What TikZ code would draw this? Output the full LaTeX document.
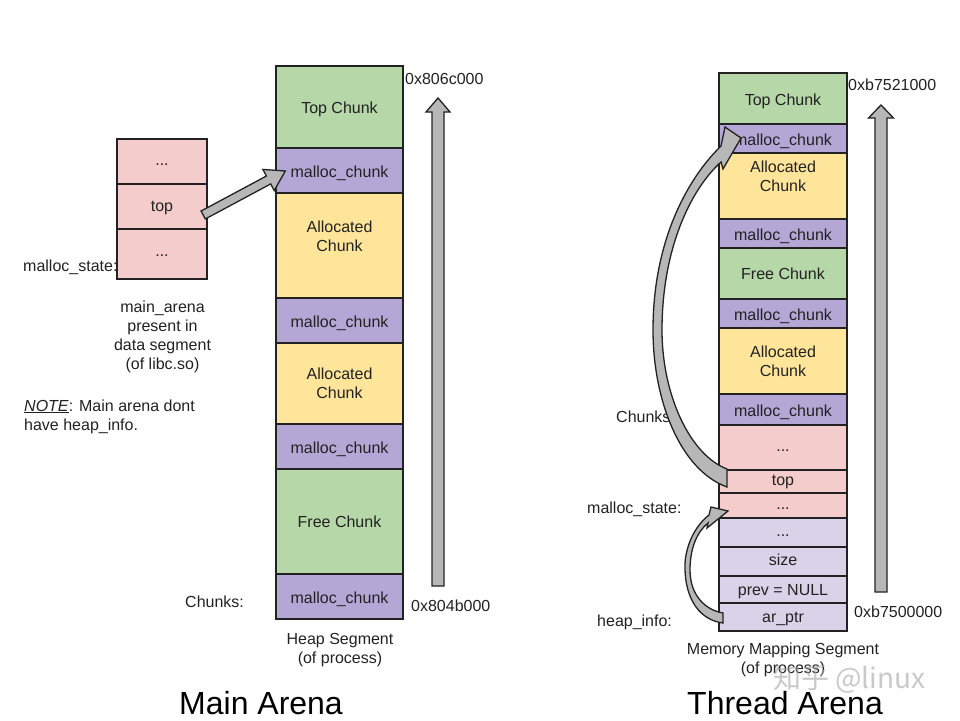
\documentclass[tikz,border=0pt]{standalone}
\usepackage{fontspec}
\setmainfont{Liberation Sans}
\newfontfamily\cjkwm{Noto Sans CJK SC}
\usetikzlibrary{calc}
\definecolor{cgreen}{HTML}{B6D7A8}
\definecolor{cpurple}{HTML}{B4A7D6}
\definecolor{cyellow}{HTML}{FFE599}
\definecolor{cpink}{HTML}{F4CCCC}
\definecolor{clav}{HTML}{D9D2E9}
\definecolor{agray}{HTML}{B7B7B7}
\definecolor{ink}{HTML}{222222}
% straight fat arrow: #1 start, #2 tip, #3 shaft half width, #4 head half width, #5 head length
\newcommand\fatarrow[5]{%
  \coordinate (fab) at ($(#2)!#5!(#1)$);
  \draw[fatstyle] ($(#1)!#3!90:(#2)$) -- ($(fab)!#3!-90:(#1)$) -- ($(fab)!#4!-90:(#1)$)
    -- (#2) -- ($(fab)!#4!90:(#1)$) -- ($(fab)!#3!90:(#1)$) -- ($(#1)!#3!-90:(#2)$) -- cycle;}
\begin{document}
\begin{tikzpicture}[x=1pt,y=-1pt,
  cboxbase/.style={draw=ink, line width=1.4pt, inner sep=0pt, align=center,
    font=\fontsize{16}{19}\selectfont, text=ink},
  sl/.style={text height=13pt, text depth=0pt},
  dots/.style={text height=7pt, text depth=0pt},
  mbox/.style={cboxbase, minimum width=127pt},
  tbox/.style={cboxbase, minimum width=128pt},
  sbox/.style={cboxbase, minimum width=90pt, fill=cpink},
  lbl/.style={inner sep=0pt, font=\fontsize{16}{19}\selectfont, text=ink},
  title/.style={inner sep=0pt, font=\fontsize{32}{36}\selectfont, text=black},
  fatstyle/.style={fill=agray, draw=ink, line width=1.3pt, line join=miter}]
\useasboundingbox[fill=white] (0,0) rectangle (960,720);

% ---------------- Main arena ----------------
\node[mbox, sl, fill=cgreen,  minimum height=82pt]  (mtop)  at (339.5,107)   {Top Chunk};
\node[mbox, sl, fill=cpurple, minimum height=45pt]  (mc1)   at (339.5,170.5) {malloc\_chunk};
\node[mbox, fill=cyellow, minimum height=105pt] (ma1)   at (339.5,245.5) {Allocated\\Chunk\\\mbox{}};
\node[mbox, sl, fill=cpurple, minimum height=45pt]  (mc2)   at (339.5,320.5) {malloc\_chunk};
\node[mbox, fill=cyellow, minimum height=81pt]  (ma2)   at (339.5,383.5) {Allocated\\Chunk};
\node[mbox, sl, fill=cpurple, minimum height=45pt]  (mc3)   at (339.5,446.5) {malloc\_chunk};
\node[mbox, text height=11.5pt, text depth=0pt, fill=cgreen,  minimum height=105pt] (mfree) at (339.5,521.5) {Free Chunk};
\node[mbox, sl, fill=cpurple, minimum height=45pt]  (mc4)   at (339.5,596.5) {malloc\_chunk};

\node[sbox, dots, minimum height=45pt] (ms1) at (162,161.5) {...};
\node[sbox, text height=10pt, text depth=0pt, minimum height=45pt] (ms2) at (162,206.5) {top};
\node[sbox, text height=4pt, text depth=0pt, minimum height=50pt] (ms3) at (162,254)   {...};

\node[lbl, anchor=base west] (lms) at (23,271) {malloc\_state:};
\node[lbl, anchor=base] (lmain) at (162.5,312)
  {\begin{tabular}[t]{@{}c@{}}main\_arena\\present in\\data segment\\(of libc.so)\end{tabular}};
\node[lbl, anchor=base west] (lnote) at (24,411)
  {\begin{tabular}[t]{@{}l@{}}\underline{\textit{NOTE}}: Main arena dont\\have heap\_info.\end{tabular}};
\node[lbl, anchor=base west] (lchm) at (185,607) {Chunks:};
\node[lbl, anchor=base] (lheap) at (340,644)
  {\begin{tabular}[t]{@{}c@{}}Heap Segment\\(of process)\end{tabular}};
\node[lbl, anchor=base west] (ahi) at (405,84) {0x806c000};
\node[lbl, anchor=base west] (alo) at (411,611) {0x804b000};
\node[title, anchor=base west] (tmain) at (179,714) {Main Arena};

\coordinate (mab) at (438,586);
\coordinate (mat) at (438,98);
\fatarrow{mab}{mat}{6pt}{12pt}{14pt}

\coordinate (ptrs) at ($(ms2.east)+(-4.5,8.5)$);
\coordinate (ptrt) at ($(mc1.west)+(10,0.5)$);
\fatarrow{ptrs}{ptrt}{4.5pt}{12pt}{19pt}

% ---------------- Thread arena ----------------
\node[tbox, sl, fill=cgreen,  minimum height=51pt] (ttop)  at (783,98.5)  {Top Chunk};
\node[tbox, sl, fill=cpurple, minimum height=29pt] (tc1)   at (783,138.5) {malloc\_chunk};
\node[tbox, fill=cyellow, minimum height=66pt] (ta1)   at (783,186)   {Allocated\\Chunk\\\mbox{}};
\node[tbox, sl, fill=cpurple, minimum height=29pt] (tc2)   at (783,233.5) {malloc\_chunk};
\node[tbox, text height=11.5pt, text depth=0pt, fill=cgreen,  minimum height=51pt] (tfree) at (783,273.5) {Free Chunk};
\node[tbox, sl, fill=cpurple, minimum height=29pt] (tc3)   at (783,313.5) {malloc\_chunk};
\node[tbox, fill=cyellow, minimum height=66pt] (ta2)   at (783,361)   {Allocated\\Chunk};
\node[tbox, sl, fill=cpurple, minimum height=31pt] (tc4)   at (783,409.5) {malloc\_chunk};
\node[tbox, dots, fill=cpink,   minimum height=45pt] (ts1)   at (783,447.5) {...};
\node[tbox, text height=7pt, text depth=0pt, fill=cpink, minimum height=23pt] (ttp) at (783,481.5) {top};
\node[tbox, dots, fill=cpink,   minimum height=25pt] (ts2)   at (783,505.5) {...};
\node[tbox, dots, fill=clav,    minimum height=29pt] (th1)   at (783,532.5) {...};
\node[tbox, text height=8.5pt, text depth=0pt, fill=clav, minimum height=29pt] (tsz) at (783,561.5) {size};
\node[tbox, text height=11.5pt, text depth=0pt, fill=clav,    minimum height=27pt] (tpv)   at (783,589.5) {prev = NULL};
\node[tbox, text height=11.5pt, text depth=0pt, fill=clav,    minimum height=28pt] (tar)   at (783,617)   {ar\_ptr};

\node[lbl, anchor=base west] (lcht) at (616,422) {Chunks:};
\node[lbl, anchor=base west] (lmst) at (587,513) {malloc\_state:};
\node[lbl, anchor=base west] (lhi)  at (597,626) {heap\_info:};
\node[lbl, anchor=base] (lmm) at (783,654)
  {\begin{tabular}[t]{@{}c@{}}Memory Mapping Segment\\(of process)\end{tabular}};
\node[lbl, anchor=base west] (bhi) at (848,90)  {0xb7521000};
\node[lbl, anchor=base west] (blo) at (854,617) {0xb7500000};
\node[title, anchor=base west] (tthr) at (687,714) {Thread Arena};

\coordinate (tab) at (881,592);
\coordinate (tat) at (881,105);
\fatarrow{tab}{tat}{6pt}{12.5pt}{13pt}

% curved arrow: top -> malloc_chunk
\draw[fatstyle] (727,487) .. controls (680,470) and (653,400) .. (653,330)
  .. controls (653,240) and (688,178) .. (721,146) -- (725,127) -- (741,138)
  -- (723,169) -- (721,162) .. controls (690,190) and (662,250) .. (662,330)
  .. controls (662,395) and (690,455) .. (727,469) -- cycle;

% curved arrow: ar_ptr -> malloc_state
\draw[fatstyle] (723,623) .. controls (700,620) and (686,600) .. (685,570)
  .. controls (684,555) and (690,530) .. (709,515) -- (711,507) -- (728,511)
  -- (707,528) -- (708,523) .. controls (697,532) and (690,548) .. (690,570)
  .. controls (690,595) and (705,610) .. (723,613) -- cycle;

% watermark
\node[inner sep=0pt, anchor=base west, font=\cjkwm\fontsize{28}{30}\selectfont,
  text=black!35, opacity=0.6] (wm) at (773,688) {知乎 @linux};
\end{tikzpicture}
\end{document}
